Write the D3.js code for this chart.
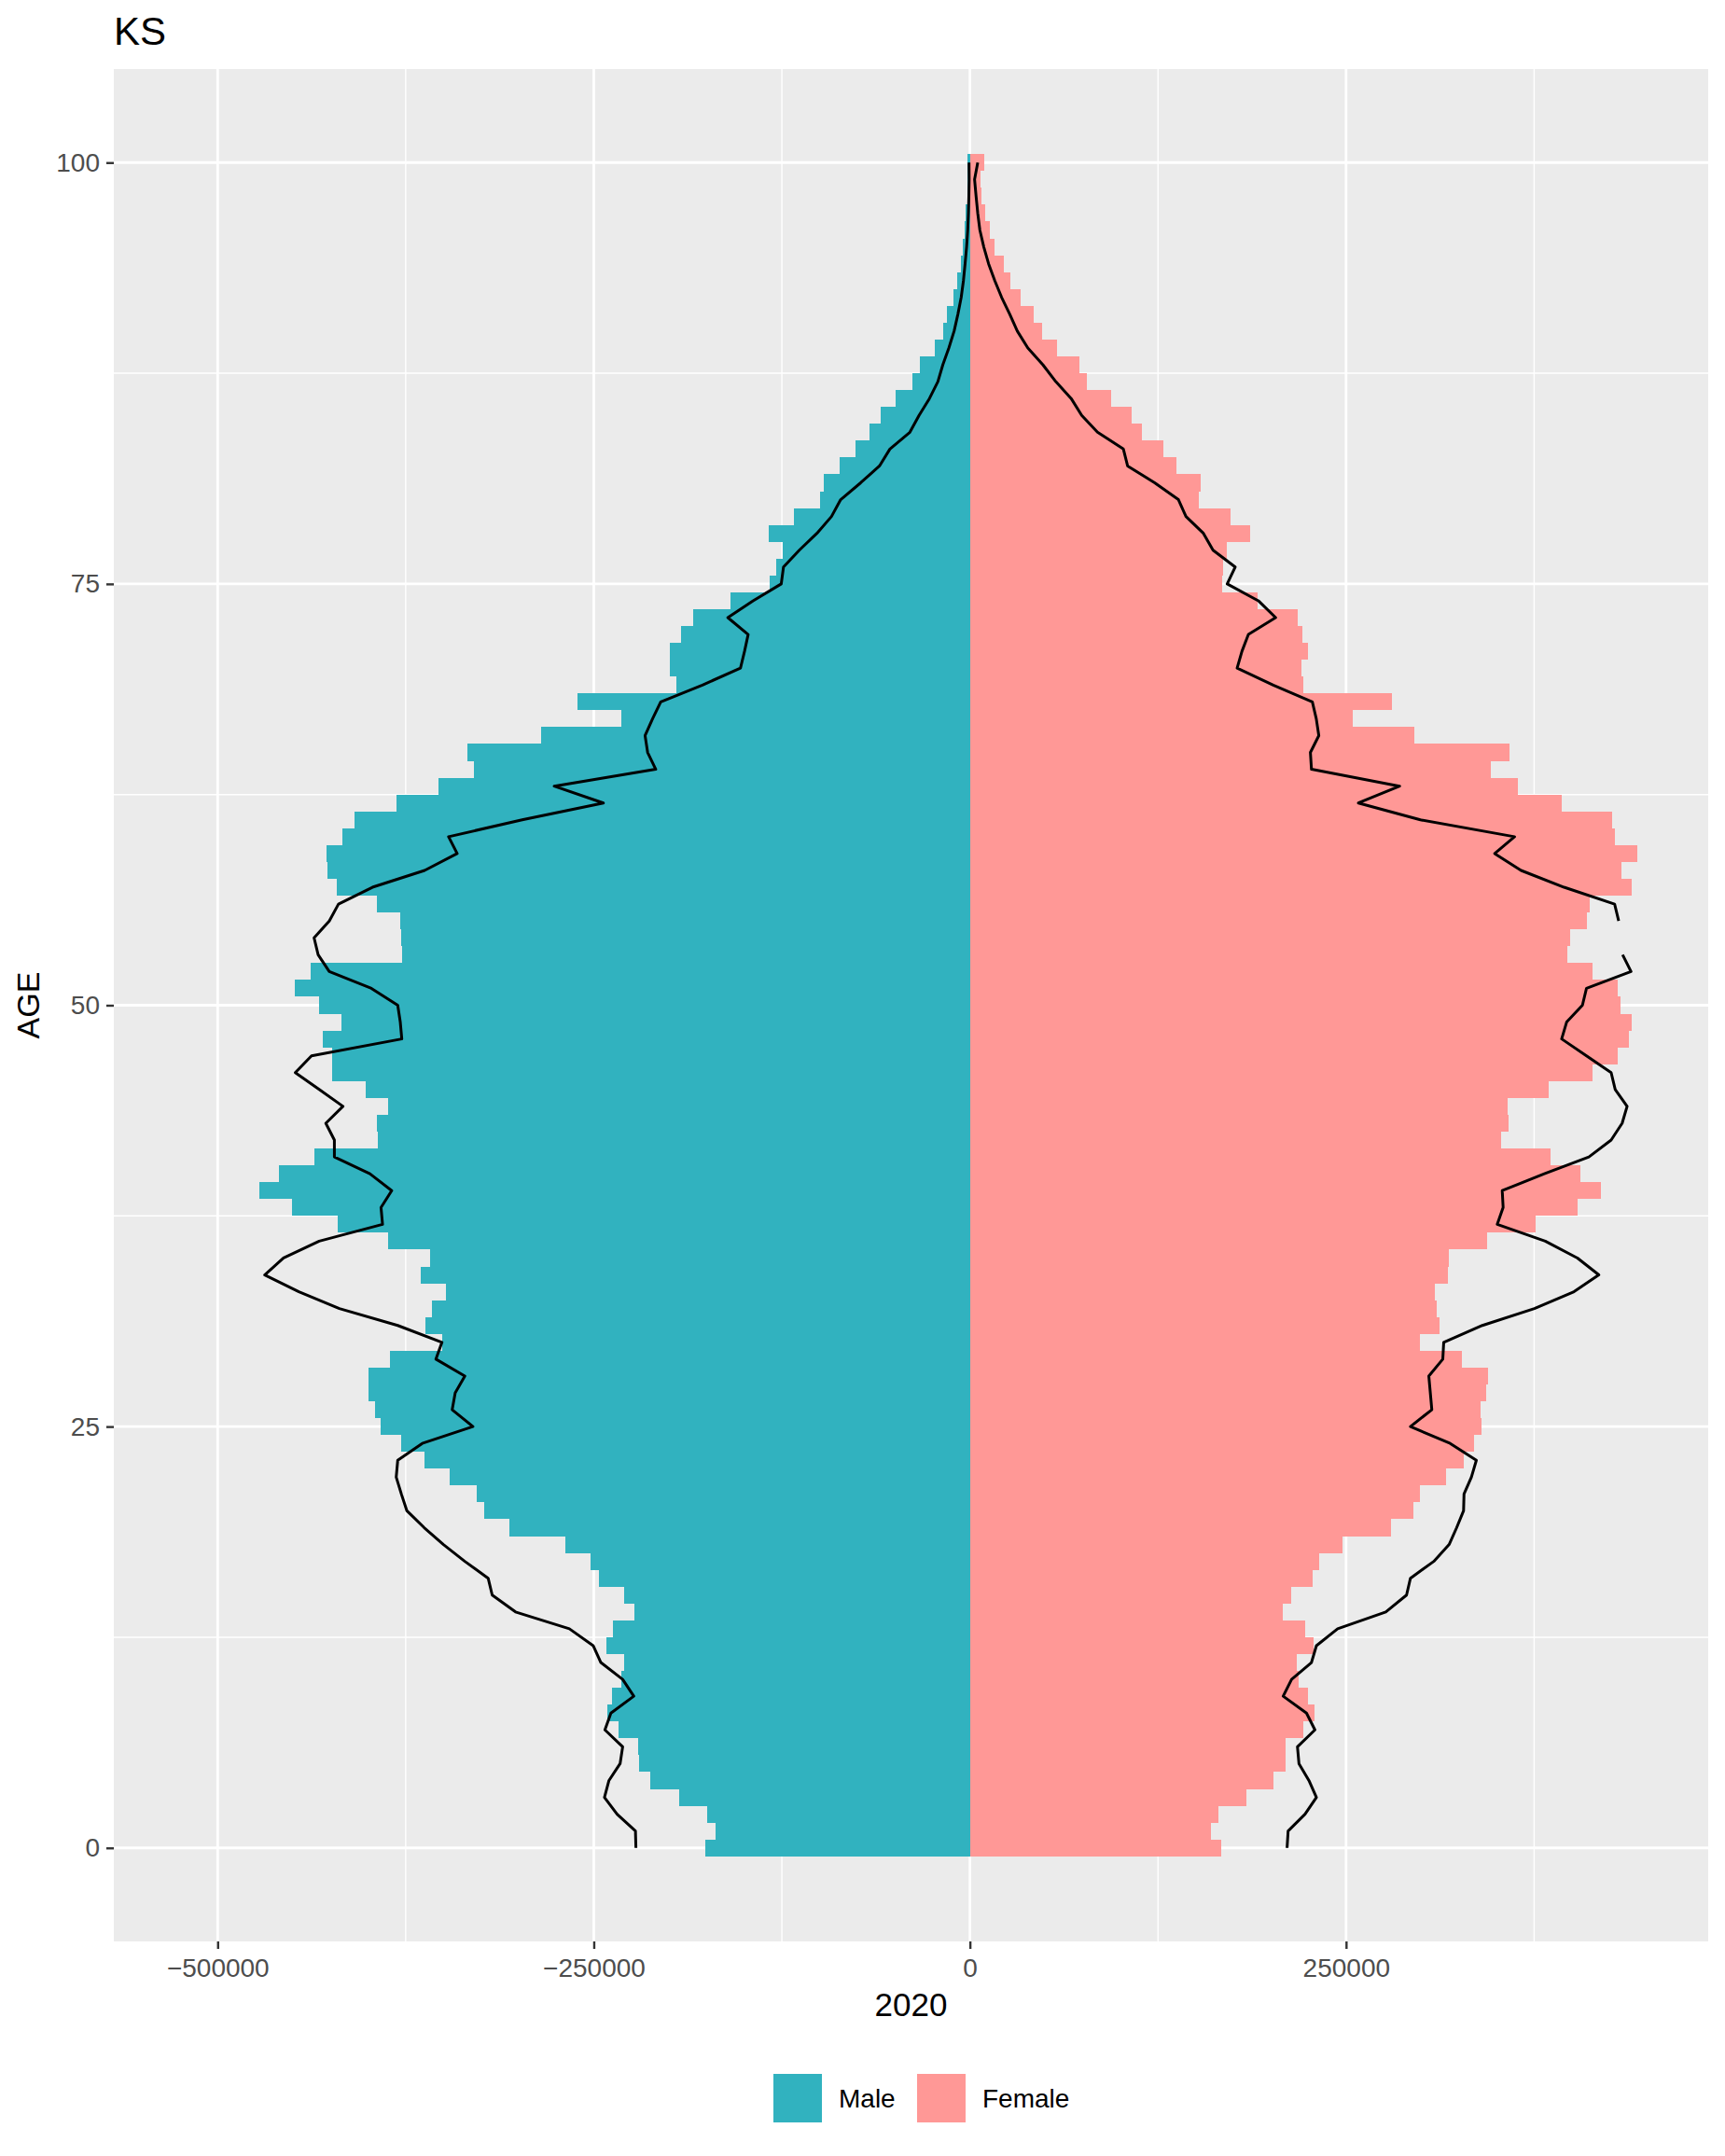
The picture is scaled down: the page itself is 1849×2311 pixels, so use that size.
<!DOCTYPE html>

<head>
    <meta charset="utf-8">
    <style>
        body { margin: 0; background: #ffffff; }
        text { font-family: "Liberation Sans", Arial, Helvetica, sans-serif; }
    </style>
</head>

<body>
    <div id="graph"></div>
    <script src="https://d3js.org/d3.v7.min.js"></script>

    <script>
        // Tamaño de la imagen y del panel
        const WIDTH = 1849;
        const HEIGHT = 2311;
        const PANEL = { left: 122, right: 1831, top: 74, bottom: 2081 };

        const TITLE = "KS";
        const X_TITLE = "2020";
        const Y_TITLE = "AGE";
        const SEXES = ["Male", "Female"];
        const COLORS = ["#31B2BF", "#FF9896"];

        const X_TICKS = [-500000, -250000, 0, 250000];
        const X_MINOR = [-375000, -125000, 125000, 375000];
        const Y_TICKS = [0, 25, 50, 75, 100];
        const Y_MINOR = [12.5, 37.5, 62.5, 87.5];

        // Edades 0..100
        const AGES = d3.range(0, 101);

        // Barras (2020)
        const MALE = [
            176100, 169000, 174400, 193000, 212200, 220000, 220700, 233500, 241200, 237900,
            231800, 230100, 241900, 237500, 222700, 230100, 246300, 252000, 268900, 306000,
            322900, 327600, 345800, 362400, 377900, 391400, 395400, 399800, 399800, 385300,
            350900, 361700, 357300, 348200, 365100, 359000, 387000, 420100, 450400, 472400,
            459500, 435900, 393700, 394400, 387000, 401500, 424100, 424100, 429800, 417400,
            432500, 448700, 437900, 377200, 377900, 378600, 394400, 420700, 426800, 427500,
            417000, 409300, 381300, 353300, 329600, 334000, 285100, 231500, 260800, 195400,
            199400, 199400, 192000, 183900, 159200, 133000, 128600, 124200, 133600, 117000,
            99500, 97000, 86500, 76000, 66500, 59300, 49100, 38000, 33000, 23400,
            17800, 15000, 11200, 8600, 6200, 4500, 3400, 2600, 1600, 1450,
            1700
        ];
        const FEMALE = [
            167000, 160100, 165400, 183500, 201600, 209500, 209800, 221400, 229300, 224600,
            218700, 217100, 228600, 223000, 208200, 213800, 227900, 231900, 247400, 279700,
            294500, 299400, 316600, 328400, 335000, 339900, 339600, 342900, 344600, 326800,
            298800, 311900, 310300, 309300, 317500, 318500, 343900, 375800, 403800, 419700,
            405800, 385700, 352800, 357700, 357100, 384400, 414100, 430500, 437800, 440100,
            432200, 430500, 414100, 396900, 399200, 410400, 411800, 440100, 433200, 443700,
            428900, 426600, 393600, 364000, 346500, 358700, 295100, 254300, 280600, 221400,
            220400, 224700, 221000, 218100, 191000, 167500, 168500, 170800, 186000, 173500,
            151900, 153300, 137200, 128300, 114500, 107600, 93700, 77600, 72900, 57700,
            48000, 42400, 34000, 26800, 22300, 16600, 13400, 10200, 7900, 7200,
            9700
        ];

        // Líneas de comparación
        const MALE_LINE = [
            222000, 222300, 234500, 242900, 239900, 232500, 230800, 242600, 238600, 223400,
            230800, 245300, 250400, 266200, 302000, 317500, 320200, 335700, 349900, 362700,
            374200, 377900, 381300, 380300, 364000, 330300, 344100, 342100, 335700, 354900,
            350900, 380300, 419100, 446000, 468700, 456200, 432500, 390400, 391400, 384300,
            398800, 422400, 422400, 428100, 416700, 432500, 448400, 437600, 377600, 378600,
            380300, 397800, 425800, 433200, 435900, 425800, 419700, 397100, 362400, 340800,
            346500, 297600, 243600, 276300, 208800, 214200, 215900, 210900, 205500, 177800,
            152500, 149800, 147400, 160900, 144100, 125400, 123900, 113400, 101700, 92000,
            85900, 72600, 60100, 53200, 39900, 33800, 26900, 21300, 18000, 14000,
            10500, 8000, 5800, 4300, 3200, 2200, 1450, 1000, 700, 500,
            600
        ];
        const FEMALE_LINE = [
            210800, 211500, 222700, 230300, 225300, 218700, 217700, 229300, 223700, 208200,
            213800, 227000, 230300, 244400, 276400, 290200, 292800, 308300, 318500, 323500,
            328100, 328400, 333300, 336600, 319200, 292800, 307000, 306000, 305000, 314300,
            314900, 340600, 375200, 401500, 418000, 403800, 382400, 350500, 354400, 353800,
            381800, 411400, 426200, 433500, 436800, 428900, 426200, 409800, 393300, 396600,
            407100, 409800, 439400, 433800, null, 431200, 428500, 394900, 366300, 348800,
            362000, 299400, 258200, 285600, 227000, 226300, 231900, 230200, 227600, 201600,
            177600, 180800, 185100, 203200, 191700, 171000, 176300, 161600, 155200, 143600,
            138600, 122800, 104800, 102000, 84800, 74300, 67300, 57100, 48500, 38500,
            31500, 26500, 21100, 16500, 12400, 9200, 6600, 5200, 4100, 3100,
            5200
        ];

        const xScale = d3.scaleLinear()
            .domain([-569000, 490700])
            .range([PANEL.left, PANEL.right]);

        const yScale = d3.scaleLinear()
            .domain([-5.55, 105.55])
            .range([PANEL.bottom, PANEL.top]);

        const svg = d3.select("#graph")
            .append("svg")
            .attr("width", WIDTH)
            .attr("height", HEIGHT);

        svg.append("rect")
            .attr("width", WIDTH)
            .attr("height", HEIGHT)
            .attr("fill", "#ffffff");

        // Panel gris
        svg.append("rect")
            .attr("x", PANEL.left)
            .attr("y", PANEL.top)
            .attr("width", PANEL.right - PANEL.left)
            .attr("height", PANEL.bottom - PANEL.top)
            .attr("fill", "#EBEBEB");

        // Rejilla
        const grid = svg.append("g");
        grid.selectAll(".xminor").data(X_MINOR).enter().append("line")
            .attr("x1", d => xScale(d)).attr("x2", d => xScale(d))
            .attr("y1", PANEL.top).attr("y2", PANEL.bottom)
            .attr("stroke", "#ffffff").attr("stroke-width", 1.4);
        grid.selectAll(".yminor").data(Y_MINOR).enter().append("line")
            .attr("y1", d => yScale(d)).attr("y2", d => yScale(d))
            .attr("x1", PANEL.left).attr("x2", PANEL.right)
            .attr("stroke", "#ffffff").attr("stroke-width", 1.4);
        grid.selectAll(".xmajor").data(X_TICKS).enter().append("line")
            .attr("x1", d => xScale(d)).attr("x2", d => xScale(d))
            .attr("y1", PANEL.top).attr("y2", PANEL.bottom)
            .attr("stroke", "#ffffff").attr("stroke-width", 2.8);
        grid.selectAll(".ymajor").data(Y_TICKS).enter().append("line")
            .attr("y1", d => yScale(d)).attr("y2", d => yScale(d))
            .attr("x1", PANEL.left).attr("x2", PANEL.right)
            .attr("stroke", "#ffffff").attr("stroke-width", 2.8);

        // Barras
        const bars = svg.append("g");
        bars.selectAll(".male").data(AGES).enter().append("rect")
            .attr("x", a => xScale(-MALE[a]))
            .attr("width", a => xScale(0) - xScale(-MALE[a]))
            .attr("y", a => yScale(a + 0.5))
            .attr("height", a => yScale(a - 0.5) - yScale(a + 0.5))
            .attr("fill", COLORS[0])
            .attr("shape-rendering", "crispEdges");
        bars.selectAll(".female").data(AGES).enter().append("rect")
            .attr("x", xScale(0))
            .attr("width", a => xScale(FEMALE[a]) - xScale(0))
            .attr("y", a => yScale(a + 0.5))
            .attr("height", a => yScale(a - 0.5) - yScale(a + 0.5))
            .attr("fill", COLORS[1])
            .attr("shape-rendering", "crispEdges");

        // Líneas
        const maleLine = d3.line()
            .x(a => xScale(-MALE_LINE[a]))
            .y(a => yScale(a));
        const femaleLine = d3.line()
            .defined(a => FEMALE_LINE[a] != null)
            .x(a => xScale(FEMALE_LINE[a]))
            .y(a => yScale(a));

        svg.append("path")
            .attr("d", maleLine(AGES))
            .attr("fill", "none")
            .attr("stroke", "#000000")
            .attr("stroke-width", 3)
            .attr("stroke-linejoin", "round");
        svg.append("path")
            .attr("d", femaleLine(AGES))
            .attr("fill", "none")
            .attr("stroke", "#000000")
            .attr("stroke-width", 3)
            .attr("stroke-linejoin", "round");

        // Ejes
        const xAxis = svg.append("g")
            .attr("transform", `translate(0, ${PANEL.bottom})`)
            .call(d3.axisBottom(xScale)
                .tickValues(X_TICKS)
                .tickSize(8)
                .tickPadding(10)
                .tickFormat(d => d < 0 ? "\u2212" + Math.abs(d) : String(d)));
        const yAxis = svg.append("g")
            .attr("transform", `translate(${PANEL.left}, 0)`)
            .call(d3.axisLeft(yScale)
                .tickValues(Y_TICKS)
                .tickSize(8)
                .tickPadding(7));

        [xAxis, yAxis].forEach(ax => {
            ax.select(".domain").remove();
            ax.selectAll(".tick line").attr("stroke", "#333333").attr("stroke-width", 2.4);
            ax.selectAll(".tick text")
                .attr("fill", "#4D4D4D")
                .attr("font-size", 28)
                .attr("font-family", "Liberation Sans, Arial, sans-serif");
        });

        // Títulos
        svg.append("text")
            .attr("x", 122)
            .attr("y", 48)
            .attr("font-size", 42)
            .attr("fill", "#000000")
            .text(TITLE);

        svg.append("text")
            .attr("x", (PANEL.left + PANEL.right) / 2)
            .attr("y", 2161)
            .attr("text-anchor", "middle")
            .attr("font-size", 35)
            .attr("fill", "#000000")
            .text(X_TITLE);

        svg.append("text")
            .attr("transform", `translate(42, ${(PANEL.top + PANEL.bottom) / 2}) rotate(-90)`)
            .attr("text-anchor", "middle")
            .attr("font-size", 34)
            .attr("fill", "#000000")
            .text(Y_TITLE);

        // Leyenda
        const legendX = [829, 983];
        const legend = svg.append("g");
        legend.selectAll("rect").data(SEXES).enter().append("rect")
            .attr("x", (d, i) => legendX[i])
            .attr("y", 2223)
            .attr("width", 52)
            .attr("height", 52)
            .attr("fill", (d, i) => COLORS[i]);
        legend.selectAll("text").data(SEXES).enter().append("text")
            .attr("x", (d, i) => legendX[i] + 70)
            .attr("y", 2259)
            .attr("font-size", 28)
            .attr("fill", "#000000")
            .text(d => d);
    </script>

</body>

</html>
